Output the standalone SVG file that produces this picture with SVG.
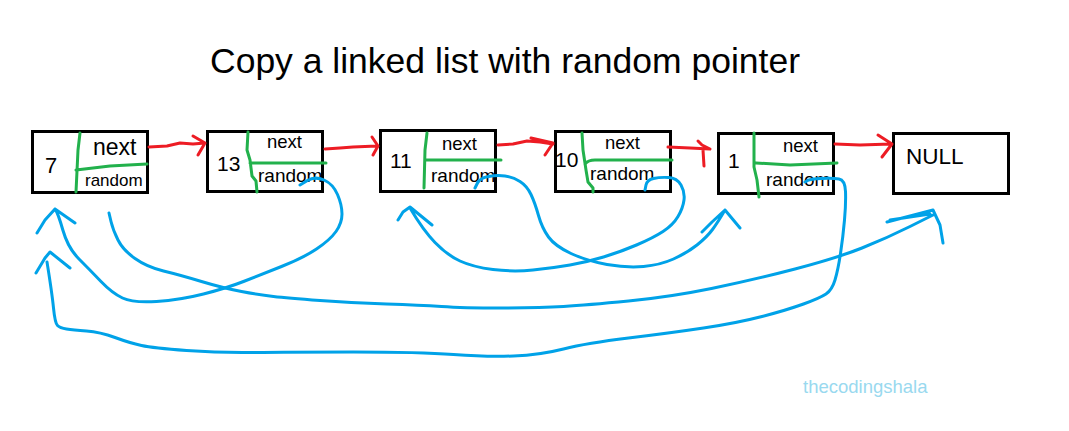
<svg xmlns="http://www.w3.org/2000/svg" width="1069" height="431" viewBox="0 0 1069 431">
<style>
.box{fill:#fff;stroke:#000;stroke-width:3}
.t{font-family:"Liberation Sans",Arial,sans-serif;fill:#000}
.g{fill:none;stroke:#22b14c;stroke-width:3;stroke-linecap:round;stroke-linejoin:round}
.r{fill:none;stroke:#ed1c24;stroke-width:3;stroke-linecap:round;stroke-linejoin:round}
.b{fill:none;stroke:#00a2e8;stroke-width:3;stroke-linecap:round;stroke-linejoin:round}
</style>
<rect width="1069" height="431" fill="#fff"/>
<text class="t" x="210" y="73" font-size="35.5">Copy a linked list with random pointer</text>

<g id="node7">
<rect class="box" x="32.5" y="131.5" width="115" height="61"/>
<path class="g" d="M80,133 L78,150 L76,192 M76,170 L110,166 L147,164"/>
<text class="t" x="45" y="173" font-size="22">7</text>
<text class="t" x="93" y="155" font-size="23">next</text>
<text class="t" x="85" y="186" font-size="17">random</text>
</g>

<g id="node13">
<rect class="box" x="207.5" y="131.5" width="115" height="60"/>
<path class="g" d="M248,132 L247,150 L250,160 L252,176 L256,181 L257,192 M250,163 L326,163"/>
<text class="t" x="217" y="171" font-size="21">13</text>
<text class="t" x="267" y="148" font-size="18.5">next</text>
<text class="t" x="258" y="182" font-size="19">random</text>
</g>

<g id="node11">
<rect class="box" x="380.5" y="130.5" width="115" height="61"/>
<path class="g" d="M427,133 L425,150 L424,188 M425,160 L501,160"/>
<text class="t" x="390" y="168" font-size="21">11</text>
<text class="t" x="442" y="150" font-size="18.5">next</text>
<text class="t" x="431" y="182" font-size="19">random</text>
</g>

<g id="node10">
<rect class="box" x="555.5" y="131.5" width="115" height="60"/>
<path class="g" d="M582,133 L583,150 L586,170 L588,182 L593,188 L593,192 M585,164 Q588,160 595,160 L672,160"/>
<text class="t" x="555" y="167" font-size="21">10</text>
<text class="t" x="605" y="149" font-size="18.5">next</text>
<text class="t" x="590" y="180" font-size="19">random</text>
</g>

<g id="node1">
<rect class="box" x="718.5" y="133.5" width="115" height="60"/>
<path class="g" d="M754,133 L754,167 L757,180 L759,197 M756,163 L790,165 L837,163"/>
<text class="t" x="728" y="168" font-size="21">1</text>
<text class="t" x="783" y="152" font-size="18.5">next</text>
<text class="t" x="766" y="186" font-size="19">random</text>
</g>

<g id="nodeNULL">
<rect class="box" x="893.5" y="133.5" width="115" height="60"/>
<text class="t" x="906" y="164" font-size="22.5">NULL</text>
</g>

<g id="connectors">
<!-- next pointers -->
<path class="r" d="M149,147 L167,146 L180,143 L193,144 L205,143 M193,136 L205,143 L198,155"/>
<path class="r" d="M325,149 L340,148 L353,147 L377,146 M372,137 L378,146 L373,155"/>
<path class="r" d="M498,145 L513,144 L527,141 L540,142 L553,144 M531,138 L553,143 L545,155"/>
<path class="r" d="M668,147 L690,148 L710,149 M698,141 L702,145 L710,149 M703,150 L704,166"/>
<path class="r" d="M835,144 L860,145 L891,144 M878,135 L892,144 L882,157"/>

<!-- 13.random -> 7 -->
<path class="b" d="M300,185 L307.5,180.5 Q315,176 324,180 Q333,184 337.5,194.5 Q342,205 342,214 Q342,223 336,231.5 Q330,240 316.5,249 Q303,258 281.5,266.5 Q260,275 243.5,281.5 Q227,288 203.5,294 Q180,300 156.5,301.5 Q133,303 122.5,298 Q112,293 101,281.5 Q90,270 79,259 Q68,248 63,230.5 Q58,213 55,209 M37,233 L45,220 L55,209 L75,223"/>
<!-- 7.random -> NULL -->
<path class="b" d="M109,213 L111,221.5 Q113,230 118,240 Q123,250 135,258.5 Q147,267 163.5,271 Q180,275 201.5,281.5 Q223,288 241.5,291.5 Q260,295 273.5,296.5 Q287,298 320,300.5 Q353,303 386.5,304 Q420,305 441.5,306.5 Q463,308 501.5,308 Q540,308 563.5,306.5 Q587,305 628.5,301 Q670,297 711.5,288.5 Q753,280 795,269 Q837,258 862,248 Q887,238 910,226.5 L933,215 M887,222 L933,210 M890,220 L930,214 M933,210 L940,225 L943,243"/>
<!-- 11.random -> 1 -->
<path class="b" d="M475,188 L477.5,183 Q480,178 488.5,176.5 Q497,175 505,176 Q513,177 520,181.5 Q527,186 531,194.5 Q535,203 538.5,215.5 Q542,228 548.5,237 Q555,246 571,253.5 Q587,261 607,264.5 Q627,268 643.5,266.5 Q660,265 673.5,259 Q687,253 697,245 Q707,237 712.5,229.5 Q718,222 725,210 M702,232 L712,222 L725,210 L740,228"/>
<!-- 10.random -> 11 -->
<path class="b" d="M645,190 L646,185 Q647,180 653.5,178.5 Q660,177 668.5,177.5 Q677,178 681,185 Q685,192 684,200 Q683,208 678,216.5 Q673,225 663,231.5 Q653,238 636.5,245 Q620,252 603.5,257 Q587,262 570,265 Q553,268 533,270 Q513,272 493,269.5 Q473,267 460,261 Q447,255 435,242.5 Q423,230 410,208 M398,220 L403,212 L410,207 L432,225"/>
<!-- 1.random -> 7 -->
<path class="b" d="M805,182 L807.5,180.5 Q810,179 821.5,178.5 Q833,178 839,179 Q845,180 845.5,191.5 Q846,203 844.5,220 Q843,237 840.5,253.5 Q838,270 835,280 Q832,290 826,294 Q820,298 803.5,304 Q787,310 762,316.5 Q737,323 703.5,328 Q670,333 628.5,338 Q587,343 563.5,349 Q540,355 513.5,356 Q487,357 453.5,354.5 Q420,352 353.5,352 Q287,352 253.5,352.5 Q220,353 186.5,350.5 Q153,348 141.5,345.5 Q130,343 115,337.5 Q100,332 86.5,331 Q73,330 66.5,329 Q60,328 57.5,325.5 Q55,323 53.5,308 Q52,293 47,262 M36,273 L45,258 L50,252 L70,268"/>
</g>

<text x="803" y="393" font-family="Liberation Sans, Arial, sans-serif" font-size="18.5" fill="#99d9ef">thecodingshala</text>
</svg>
